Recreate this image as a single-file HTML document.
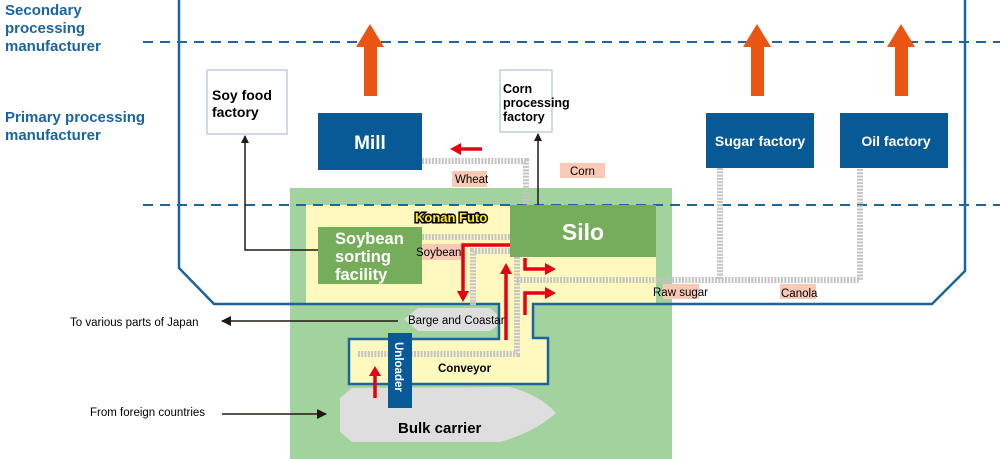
<!DOCTYPE html>
<html><head><meta charset="utf-8"><style>
html,body{margin:0;padding:0;background:#fff;}
svg{display:block;font-family:"Liberation Sans",Arial,sans-serif;}
</style></head><body>
<svg width="1000" height="459" viewBox="0 0 1000 459" xmlns="http://www.w3.org/2000/svg">
<defs>
<marker id="ah" markerWidth="8" markerHeight="8" refX="7" refY="4" orient="auto" markerUnits="userSpaceOnUse"><path d="M0,0 L8,4 L0,8z" fill="#231815"/></marker>
<marker id="ah2" markerWidth="10" markerHeight="10" refX="9" refY="5" orient="auto" markerUnits="userSpaceOnUse"><path d="M0,0 L10,5 L0,10z" fill="#231815"/></marker>
</defs>
<!-- green area -->
<rect x="290" y="188" width="382" height="271" fill="#a2d29d"/>
<!-- yellow -->
<rect x="306" y="205" width="350" height="100" fill="#fff9c0"/>
<rect x="499" y="300" width="33" height="45" fill="#fff9c0"/>
<rect x="349" y="339" width="199" height="45" fill="#fff9c0"/>
<!-- outline -->
<path d="M179,0 L179,268 L214,304 L499,304 L499,339 L349,339 L349,384 L548,384 L548,338 L533,338 L533,304 L932,304 L965,271 L965,0" fill="none" stroke="#1a64a0" stroke-width="2.5"/>
<!-- dashed -->
<line x1="143" y1="42" x2="1000" y2="42" stroke="#1f65a0" stroke-width="2" stroke-dasharray="10,7"/>
<line x1="143" y1="205" x2="1000" y2="205" stroke="#1f65a0" stroke-width="2" stroke-dasharray="10,7"/>
<!-- left labels -->
<g fill="#1a64a0" font-weight="bold" font-size="15">
<text x="5" y="15">Secondary</text><text x="5" y="33">processing</text><text x="5" y="51">manufacturer</text>
<text x="5" y="122">Primary processing</text><text x="5" y="140">manufacturer</text>
</g>
<!-- orange arrows -->
<g fill="#ea5514">
<path d="M364,96 L377,96 L377,47 L384,47 L370,24 L356,47 L364,47z"/>
<path d="M751,96 L764,96 L764,47 L771,47 L757,24 L743,47 L751,47z"/>
<path d="M895,96 L908,96 L908,47 L915,47 L901,24 L887,47 L895,47z"/>
</g>
<!-- factories -->
<rect x="207" y="70" width="80" height="64" fill="#fff" stroke="#bfcde3" stroke-width="1.5"/>
<text x="212" y="100" font-size="14" font-weight="bold">Soy food</text>
<text x="212" y="117" font-size="14" font-weight="bold">factory</text>
<rect x="500" y="70" width="52" height="62" fill="#fff" stroke="#bfcde3" stroke-width="1.5"/>
<text x="503" y="93" font-size="12.5" font-weight="bold">Corn</text>
<text x="503" y="107" font-size="12.5" font-weight="bold">processing</text>
<text x="503" y="121" font-size="12.5" font-weight="bold">factory</text>
<rect x="318" y="113" width="104" height="57" fill="#075a96"/>
<text x="370" y="149" font-size="19" font-weight="bold" fill="#fff" text-anchor="middle">Mill</text>
<rect x="706" y="113" width="108" height="55" fill="#075a96"/>
<text x="760" y="146" font-size="14" font-weight="bold" fill="#fff" text-anchor="middle">Sugar factory</text>
<rect x="840" y="113" width="108" height="55" fill="#075a96"/>
<text x="896" y="146" font-size="14" font-weight="bold" fill="#fff" text-anchor="middle">Oil factory</text>
<!-- label bgs -->
<rect x="452" y="171" width="35" height="16" fill="#f8c9b4"/>
<rect x="560" y="163" width="45" height="15" fill="#f8c9b4"/>
<rect x="420" y="244" width="42" height="16" fill="#f8c9b4"/>
<rect x="663" y="284" width="36" height="15" fill="#f8c9b4"/>
<rect x="780" y="284" width="36" height="15" fill="#f8c9b4"/>
<!-- silo & sorting -->
<rect x="510" y="205" width="146" height="52" fill="#76ad5a"/>
<text x="583" y="240" font-size="23" font-weight="bold" fill="#fff" text-anchor="middle">Silo</text>
<rect x="318" y="227" width="104" height="57" fill="#76ad5a"/>
<g font-size="16.5" font-weight="bold" fill="#fff"><text x="335" y="244">Soybean</text><text x="335" y="262">sorting</text><text x="335" y="280">facility</text></g>
<text x="415" y="222" font-size="13" font-weight="bold" fill="#ffee00" stroke="#000" stroke-width="3" paint-order="stroke">Konan Futo</text>
<!-- conveyors -->
<g fill="none" stroke="#c4c4c4" stroke-width="6" stroke-dasharray="2,1.3">
<path d="M422,161 L526,161 L526,205"/>
<path d="M422,237 L510,237"/>
<path d="M510,251 L473,251 L473,306"/>
<path d="M517,257 L517,354 L357,354"/>
<path d="M517,280 L860,280 L860,168"/>
<path d="M720,168 L720,280"/>
</g>
<!-- barge -->
<path d="M418,308 L490,308 L497,314 L497,326 L490,331 L418,331 L404,319z" fill="#dedede"/>
<text x="408" y="324" font-size="11.5">Barge and Coastar</text>
<!-- bulk carrier -->
<path d="M352,388 L510,387 Q540,395 556,413 Q535,432 500,442 L352,442 L340,432 L340,398z" fill="#dedede"/>
<text x="398" y="433" font-size="15" font-weight="bold">Bulk carrier</text>
<!-- unloader -->
<rect x="388" y="333" width="24" height="75" fill="#075a96"/>
<text transform="translate(395,342) rotate(90)" font-size="11.5" font-weight="bold" fill="#fff">Unloader</text>
<text x="438" y="372" font-size="11.5" font-weight="bold">Conveyor</text>
<!-- red arrows -->
<g fill="none" stroke="#e60012" stroke-width="3.5">
<path d="M510,245 L463,245 L463,292"/>
<path d="M506,340 L506,273"/>
<path d="M525,258 L525,269 L546,269"/>
<path d="M525,315 L525,293 L546,293"/>
<path d="M482,149 L460,149"/>
<path d="M375,398 L375,375"/>
</g>
<g fill="#e60012">
<path d="M457,291 L469,291 L463,302z"/>
<path d="M500,274 L512,274 L506,263z"/>
<path d="M545,263 L545,275 L556,269z"/>
<path d="M545,287 L545,299 L556,293z"/>
<path d="M461,143 L461,155 L450,149z"/>
<path d="M369,376 L381,376 L375,366z"/>
</g>
<!-- black arrows -->
<g stroke="#231815" stroke-width="1.5" fill="none">
<path d="M318,250 L245,250 L245,136" marker-end="url(#ah)"/>
<path d="M538,205 L538,134" marker-end="url(#ah)"/>
<path d="M398,321 L222,321" marker-end="url(#ah2)"/>
<path d="M222,414 L326,414" marker-end="url(#ah2)"/>
</g>
<g font-size="11.5">
<text x="455" y="183">Wheat</text>
<text x="570" y="175">Corn</text>
<text x="416" y="256">Soybean</text>
<text x="653" y="296">Raw sugar</text>
<text x="781" y="297">Canola</text>
<text x="70" y="326">To various parts of Japan</text>
<text x="90" y="416">From foreign countries</text>
</g>
</svg>
</body></html>
